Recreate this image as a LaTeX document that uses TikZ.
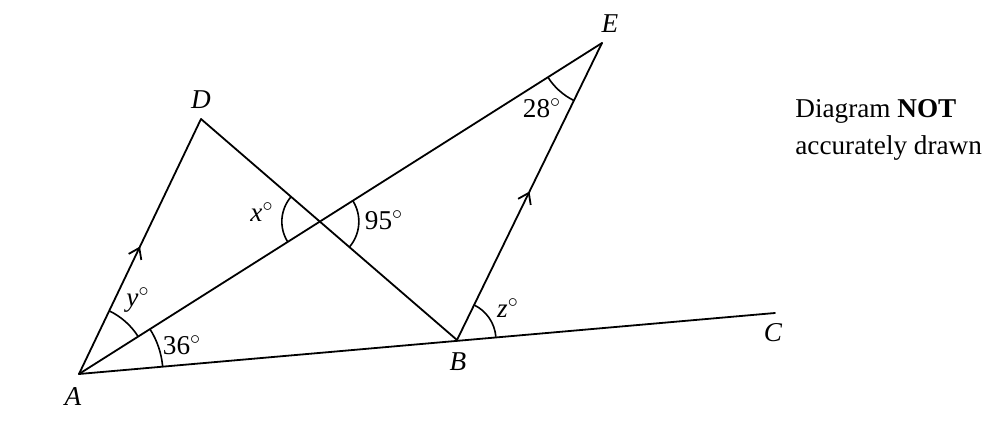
\documentclass[tikz,border=0pt]{standalone}
\usepackage{fontspec}
\setmainfont{Liberation Serif}
\usetikzlibrary{angles,arrows.meta,decorations.markings}

\newcommand{\labelsize}{\fontsize{13.6}{18.5}\selectfont}
\newcommand{\dg}{$^{\scriptstyle\circ}$}
\tikzset{
  edge/.style={line width=0.9pt, line cap=round, line join=round},
  midarrow/.style={postaction={decorate}, decoration={markings,
      mark=at position 0.5 with {\arrow{Straight Barb[length=5pt,width=7pt]}}}},
  pt/.style={font=\labelsize\itshape, inner sep=1pt},
  ang/.style={draw, line width=0.8pt},
}

\begin{document}
\begin{tikzpicture}[x=50pt, y=50pt, font=\labelsize]
\useasboundingbox (0,0) rectangle (10,4.23);
% points
\coordinate (A) at (0.79,0.49);
\coordinate (B) at (4.57,0.83);
\coordinate (C) at (7.75,1.10);
\coordinate (D) at (2.01,3.04);
\coordinate (E) at (6.02,3.80);
\coordinate (X) at (intersection of A--E and D--B);

% lines
\draw[edge] (A) -- (C);
\draw[edge] (A) -- (E);
\draw[edge] (D) -- (B);
\draw[edge, midarrow] (A) -- (D);
\draw[edge, midarrow] (B) -- (E);

% angle arcs
\pic[ang, angle radius=42pt] {angle = B--A--X};
\pic[ang, angle radius=35pt] {angle = X--A--D};
\pic[ang, angle radius=19pt] {angle = D--X--A};
\pic[ang, angle radius=19.5pt] {angle = B--X--E};
\pic[ang, angle radius=32pt] {angle = A--E--B};
\pic[ang, angle radius=19.5pt] {angle = C--B--E};

% labels
\node[pt] (lA) at (0.73,0.26) {A};
\node[pt] (lB) at (4.58,0.61) {B};
\node[pt] (lC) at (7.73,0.90) {C};
\node[pt] (lD) at (2.01,3.23) {D};
\node[pt] (lE) at (6.10,3.99) {E};
\node (ay) at (1.38,1.23) {\textit{y}\dg};
\node (a36) at (1.82,0.78) {36\dg};
\node (ax) at (2.62,2.11) {\textit{x}\dg};
\node (a95) at (3.84,2.03) {95\dg};
\node (a28) at (5.42,3.15) {28\dg};
\node (az) at (5.08,1.15) {\textit{z}\dg};

\node[anchor=west, align=left, inner sep=0pt] (note) at (7.95,2.93)
  {Diagram \textbf{NOT}\\accurately drawn};
\end{tikzpicture}
\end{document}
